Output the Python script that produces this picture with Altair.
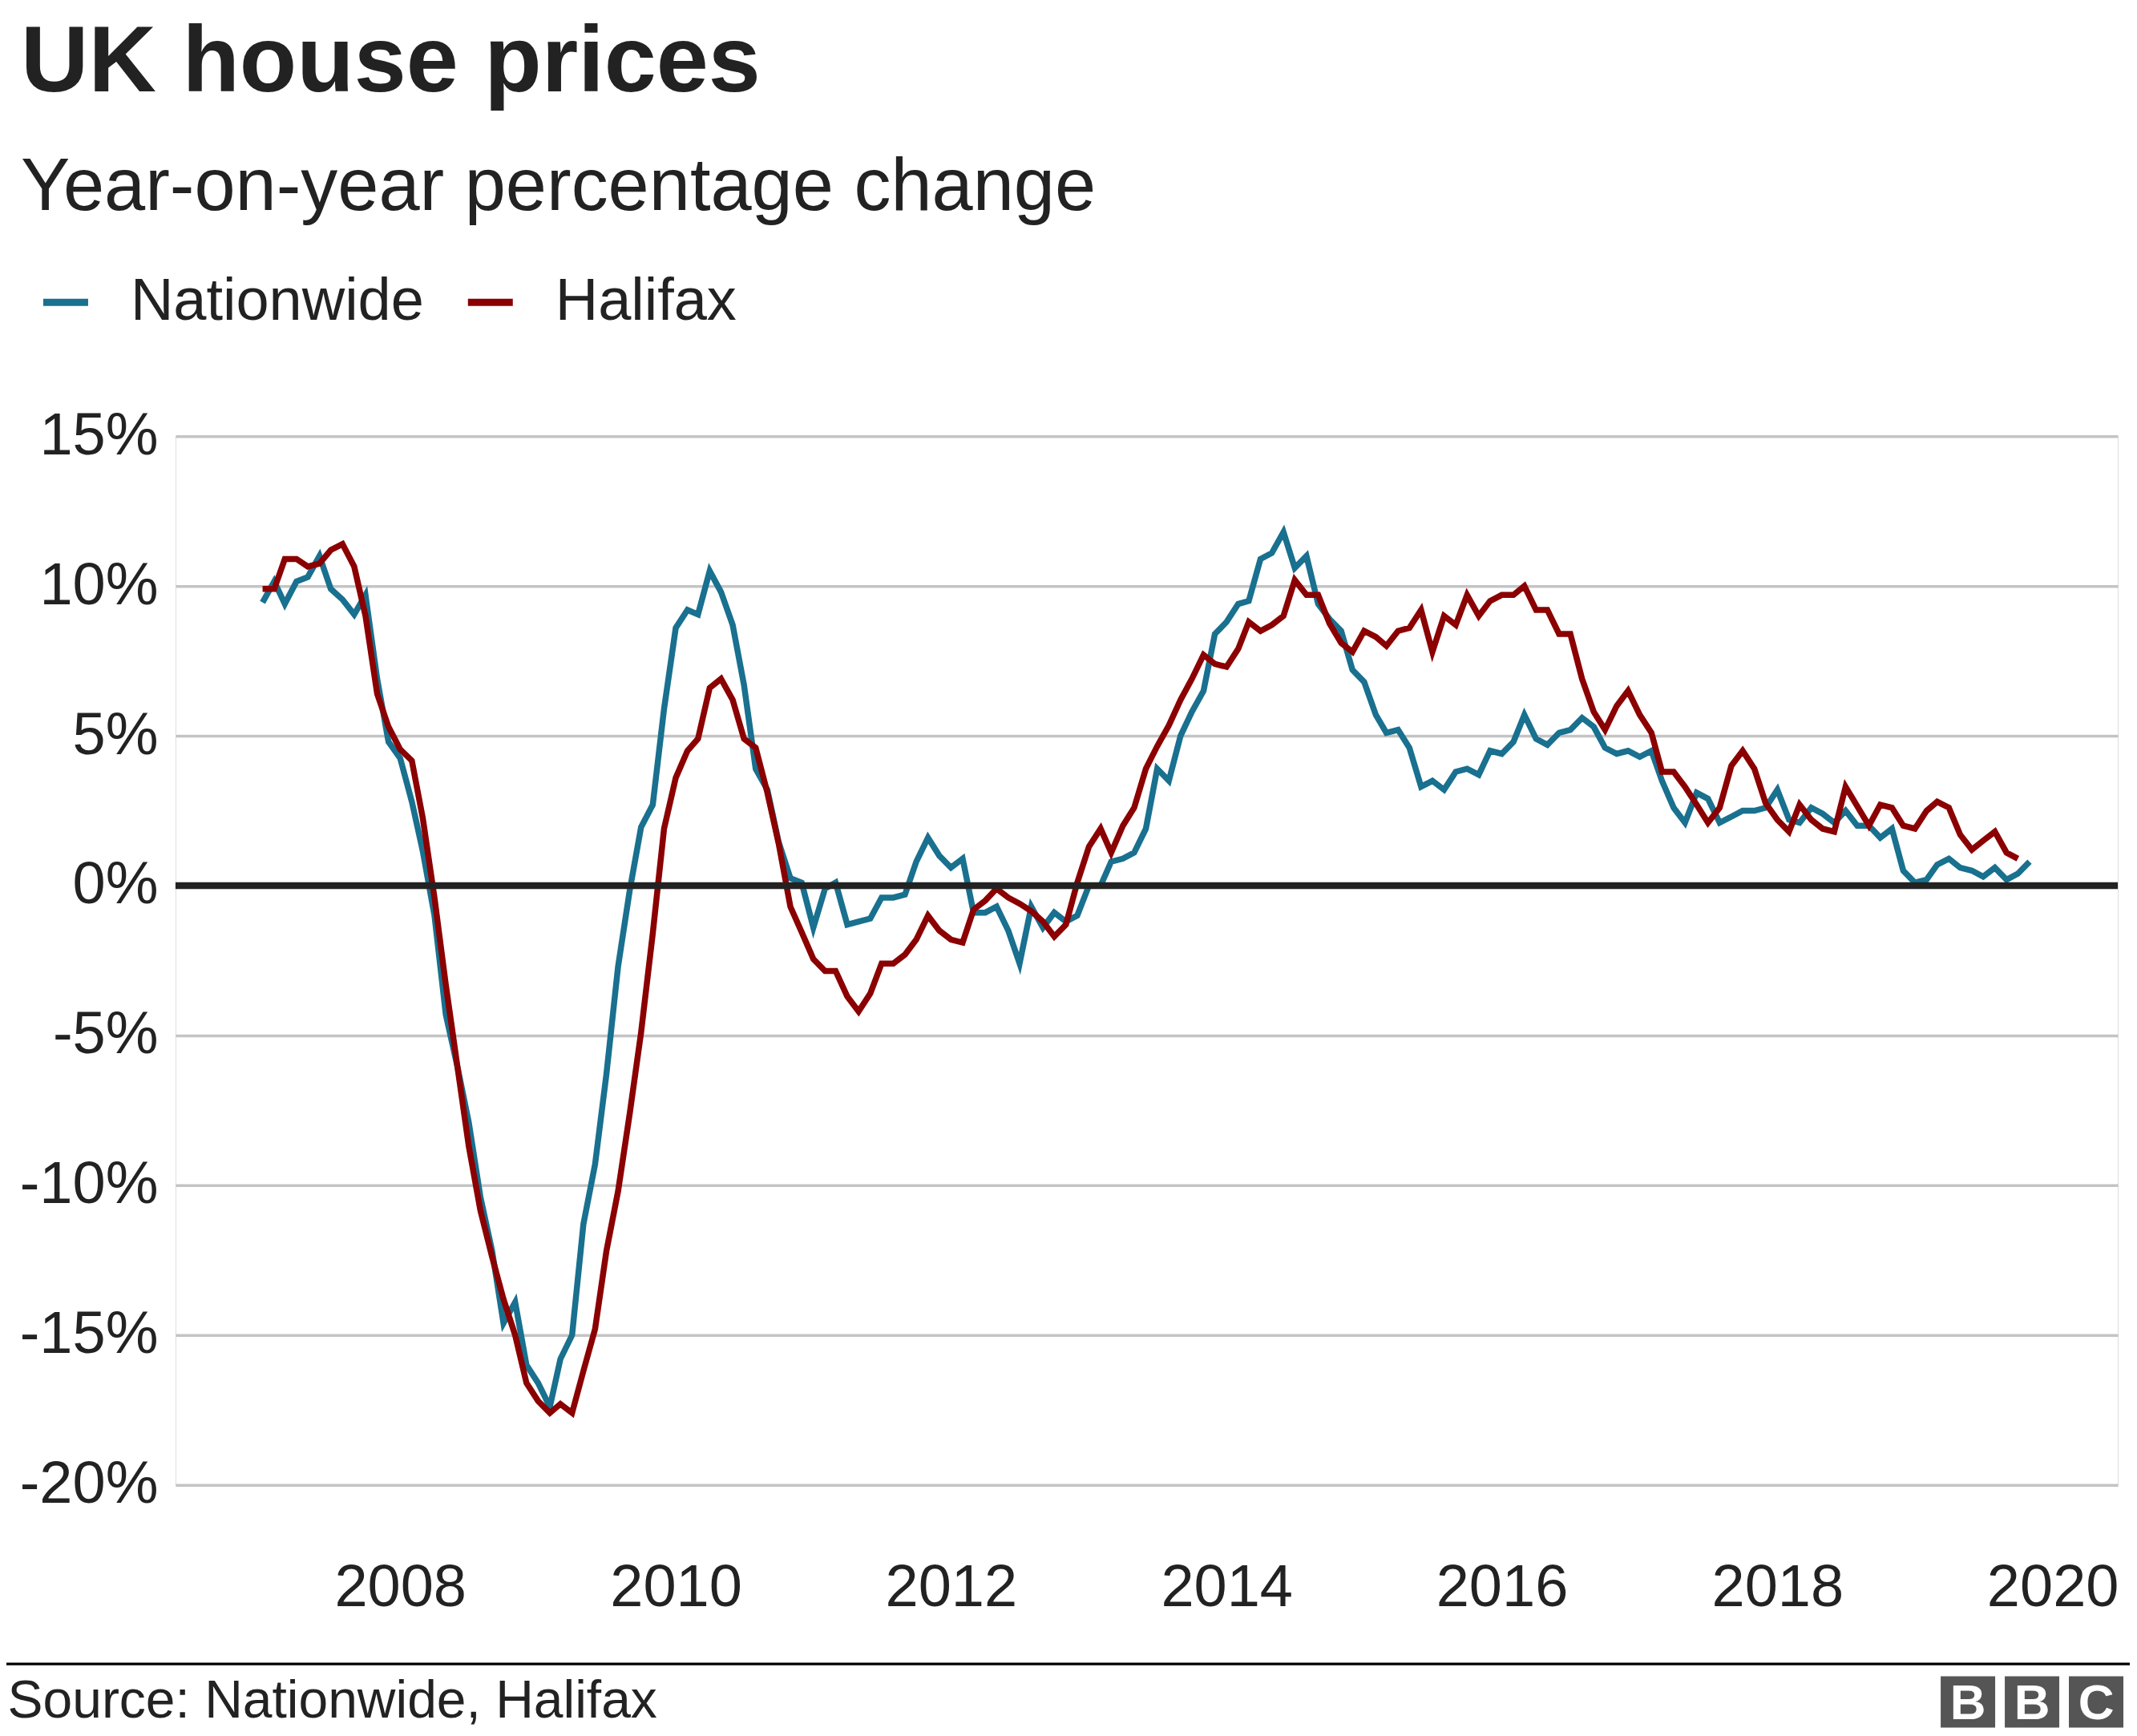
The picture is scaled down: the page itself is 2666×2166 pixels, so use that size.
import altair as alt
import pandas as pd

# Year-on-year % change, monthly, Jan 2007 onwards
nationwide = [
    9.45, 10.15, 9.4, 10.15, 10.3, 11.0, 9.9, 9.55, 9.05, 9.7, 6.9, 4.8,
    4.25, 2.8, 1.15, -1.0, -4.3, -6.05, -7.9, -10.4, -12.2, -14.6, -13.9, -16.0,
    -16.6, -17.4, -15.8, -15.0, -11.3, -9.3, -6.3, -2.7, -0.15, 1.95, 2.7, 5.9,
    8.6, 9.2, 9.05, 10.5, 9.8, 8.7, 6.7, 3.9, 3.2, 1.45, 0.25, 0.1,
    -1.4, -0.1, 0.1, -1.3, -1.2, -1.1, -0.4, -0.4, -0.3, 0.8, 1.6, 1.0,
    0.6, 0.9, -0.9, -0.9, -0.7, -1.5, -2.6, -0.7, -1.4, -0.9, -1.2, -1.0,
    0.0, 0.0, 0.8, 0.9, 1.1, 1.9, 3.9, 3.5, 5.0, 5.8, 6.5, 8.4,
    8.8, 9.4, 9.5, 10.9, 11.1, 11.8, 10.6, 11.0, 9.4, 8.9, 8.5, 7.2,
    6.8, 5.7, 5.1, 5.2, 4.6, 3.3, 3.5, 3.2, 3.8, 3.9, 3.7, 4.5,
    4.4, 4.8, 5.7, 4.9, 4.7, 5.1, 5.2, 5.6, 5.3, 4.6, 4.4, 4.5,
    4.3, 4.5, 3.5, 2.6, 2.1, 3.1, 2.9, 2.1, 2.3, 2.5, 2.5, 2.6,
    3.2, 2.2, 2.1, 2.6, 2.4, 2.1, 2.5, 2.0, 2.0, 1.6, 1.9, 0.5,
    0.1, 0.2, 0.7, 0.9, 0.6, 0.5, 0.3, 0.6, 0.2, 0.4, 0.8,
]
halifax = [
    9.9, 9.9, 10.9, 10.9, 10.65, 10.75, 11.2, 11.4, 10.65, 9.0, 6.4, 5.3,
    4.55, 4.17, 2.25, -0.4, -3.3, -6.05, -8.7, -10.85, -12.4, -13.8, -15.0, -16.6,
    -17.2, -17.6, -17.3, -17.6, -16.2, -14.8, -12.2, -10.2, -7.6, -4.9, -1.6, 1.9,
    3.6, 4.5, 4.9, 6.6, 6.9, 6.2, 4.9, 4.6, 3.1, 1.4, -0.7, -1.55,
    -2.45, -2.85, -2.85, -3.7, -4.2, -3.6, -2.6, -2.6, -2.3, -1.8, -1.0, -1.5,
    -1.8, -1.9, -0.8, -0.5, -0.1, -0.4, -0.6, -0.85, -1.2, -1.7, -1.3, 0.1,
    1.3, 1.9, 1.1, 2.0, 2.6, 3.9, 4.65, 5.35, 6.2, 6.9, 7.7, 7.4,
    7.3, 7.9, 8.8, 8.5, 8.7, 9.0, 10.2, 9.7, 9.7, 8.75, 8.1, 7.8,
    8.5, 8.3, 8.0, 8.5, 8.6, 9.2, 7.8, 9.0, 8.7, 9.7, 9.0, 9.5,
    9.7, 9.7, 10.0, 9.2, 9.2, 8.4, 8.4, 6.9, 5.8, 5.2, 6.0, 6.5,
    5.7, 5.1, 3.8, 3.8, 3.3, 2.7, 2.1, 2.6, 4.0, 4.5, 3.9, 2.75,
    2.2, 1.8, 2.7, 2.2, 1.9, 1.8, 3.3, 2.65, 2.0, 2.7, 2.6, 2.0,
    1.9, 2.5, 2.8, 2.6, 1.7, 1.2, 1.5, 1.8, 1.1, 0.9,
]
series_names = ["Nationwide", "Halifax"]
series_colors = ["#19708f", "#8b0000"]
y_ticks = [-20, -15, -10, -5, 0, 5, 10, 15]
x_tick_years = [2008, 2010, 2012, 2014, 2016, 2018, 2020]

F = "Liberation Sans"
INK = "#222222"


def frame(name, values):
    d = pd.DataFrame({
        "date": pd.date_range("2007-01-01", periods=len(values), freq="MS").strftime("%Y-%m-%d"),
        "value": values,
    })
    d["series"] = name
    return d


df_n = frame("Nationwide", nationwide)
df_h = frame("Halifax", halifax)

W, H = 2424, 1309

x_enc = alt.X(
    "date:T",
    scale=alt.Scale(domain=[alt.DateTime(year=2006, month=5, date=15),
                            alt.DateTime(year=2020, month=6, date=22)]),
    axis=alt.Axis(
        values=[alt.DateTime(year=y, month=1, date=1) for y in x_tick_years],
        format="%Y", grid=False, domain=False, ticks=False,
        labelFontSize=74, labelFont=F, labelColor=INK, labelPadding=93,
        labelFlush=False, labelAlign="center",
        title="Source: Nationwide, Halifax", titleFont=F, titleFontSize=66,
        titleFontWeight="normal", titleColor=INK, titleX=-210, titleY=290,
        titleAlign="left", titleBaseline="alphabetic", titleAngle=0,
    ),
)
y_enc = alt.Y(
    "value:Q",
    scale=alt.Scale(domain=[-20, 15], nice=False, zero=False),
    axis=alt.Axis(
        values=y_ticks, labelExpr="datum.value + '%'", grid=True,
        gridColor="#c4c4c4", gridWidth=3.5, domain=False, ticks=False,
        labelFontSize=74, labelFont=F, labelColor=INK, labelPadding=22,
        title=None,
    ),
)
color_enc = alt.Color(
    "series:N",
    scale=alt.Scale(domain=series_names, range=series_colors),
    legend=alt.Legend(
        title=None, orient="none", legendX=-174, legendY=-204,
        direction="horizontal", symbolType="stroke", symbolSize=3136,
        symbolStrokeWidth=9, labelFontSize=74, labelFont=F, labelColor=INK,
        labelOffset=44, columnPadding=36, padding=0, labelLimit=1000,
    ),
)

line_n = alt.Chart(df_n).mark_line(strokeWidth=7.5).encode(x=x_enc, y=y_enc, color=color_enc)
line_h = alt.Chart(df_h).mark_line(strokeWidth=7.5).encode(x="date:T", y="value:Q", color="series:N")

zero = alt.Chart(pd.DataFrame({"z": [0]})).mark_rule(color=INK, strokeWidth=8.5).encode(y="z:Q")

one = pd.DataFrame({"a": [0]})
footer_rule = alt.Chart(one).mark_rule(color="#000000", strokeWidth=3.5).encode(
    x=alt.value(-211), x2=alt.value(2439), y=alt.value(1532.5))

logo_layers = []
for i, letter in enumerate(["B", "B", "C"]):
    x0 = 2203 + i * 80
    logo_layers.append(
        alt.Chart(one).mark_rect(color="#555555").encode(
            x=alt.value(x0), x2=alt.value(x0 + 68), y=alt.value(1548), y2=alt.value(1612)))
    logo_layers.append(
        alt.Chart(one).mark_text(text=letter, font=F, fontSize=62, fontWeight="bold",
                                 color="white", align="center", baseline="middle").encode(
            x=alt.value(x0 + 34), y=alt.value(1582)))

chart = alt.layer(line_n, line_h, zero, footer_rule, *logo_layers).properties(
    width=W, height=H,
    title=alt.TitleParams(
        text="UK house prices", subtitle="Year-on-year percentage change",
        anchor="start", frame="group", dx=-193, dy=-58, offset=0,
        font=F, fontSize=117, fontWeight="bold", color=INK,
        subtitleFont=F, subtitleFontSize=92, subtitleColor=INK, subtitlePadding=50,
    ),
    autosize=alt.AutoSizeParams(type="none"),
    padding={"left": 211, "top": 536, "right": 16, "bottom": 305},
).configure_view(stroke=None).configure(background="white")

chart.save("out.html", embed_options={"renderer": "svg", "actions": False})
